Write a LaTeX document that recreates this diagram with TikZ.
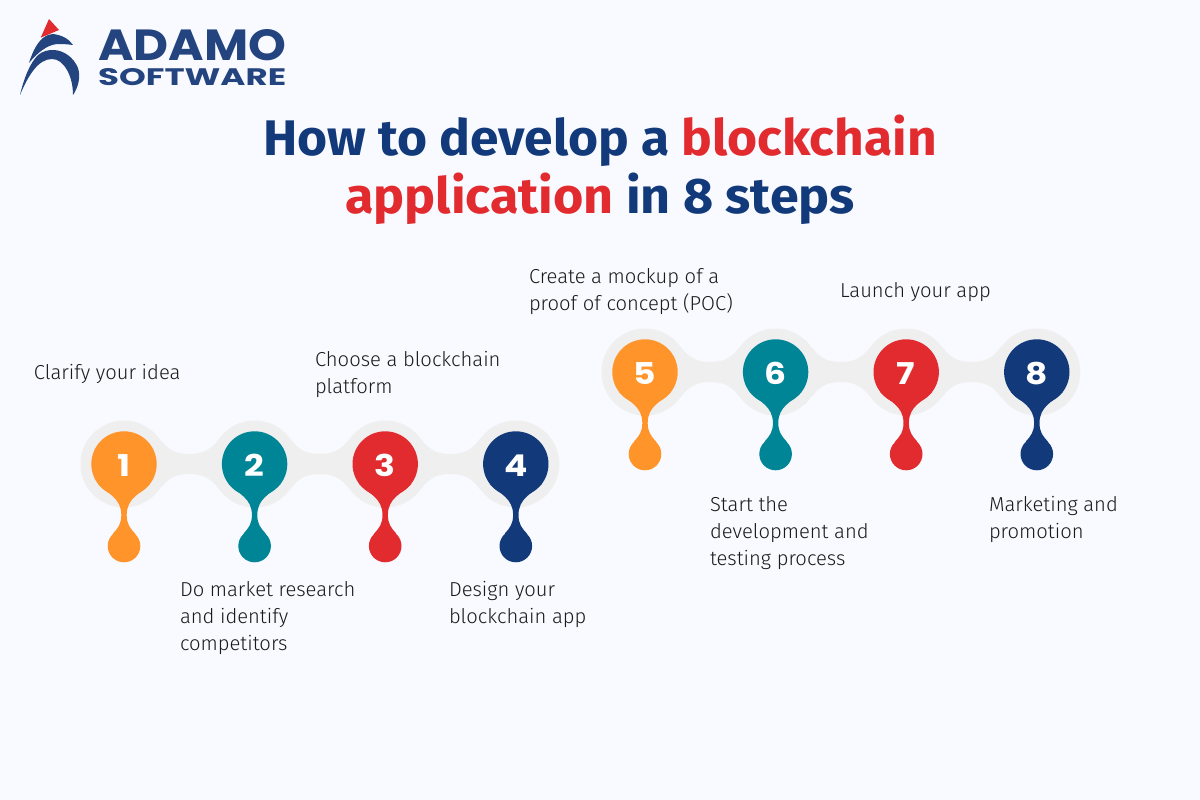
\documentclass[tikz,border=0pt]{standalone}
\usepackage{fontspec}
\setmainfont{Fira Sans}
\newfontfamily\logofont{Poppins}[Scale=1]
\newfontfamily\bodyfont{Fira Sans Light}
\definecolor{bgc}{HTML}{F9FAFF}
\definecolor{bandc}{HTML}{EFEFEF}
\definecolor{orangec}{HTML}{FF942B}
\definecolor{tealc}{HTML}{008596}
\definecolor{redc}{HTML}{E12B2F}
\definecolor{navyc}{HTML}{123A7A}
\definecolor{logoc}{HTML}{24447F}
\definecolor{textc}{HTML}{1A1A1A}
\tikzset{
  band/.style={fill=bandc,draw=none},
  label text/.style={anchor=north west,inner sep=0pt,outer sep=0pt,align=left,text=textc,font=\bodyfont\fontsize{20.2}{27}\selectfont},
  num/.style={anchor=base,inner sep=0pt,text=white,font=\logofont\fontsize{30}{36}\selectfont\bfseries},
}
\newcommand{\bandrow}[2]{%
  \foreach \cx in {0,1,2,3}{\fill[band] ({#1+130.6*\cx},#2) circle (43.5);}
  \foreach \cx in {0,1,2}{%
    \fill[band] ({#1+130.6*\cx+36},{#2-25})
      .. controls ({#1+130.6*\cx+44},{#2-14}) and ({#1+130.6*\cx+52},{#2-10}) .. ({#1+130.6*\cx+65.3},{#2-10})
      .. controls ({#1+130.6*\cx+78},{#2-10}) and ({#1+130.6*\cx+87},{#2-14}) .. ({#1+130.6*\cx+94.6},{#2-25})
      -- ({#1+130.6*\cx+94.6},{#2+25})
      .. controls ({#1+130.6*\cx+87},{#2+14}) and ({#1+130.6*\cx+78},{#2+10}) .. ({#1+130.6*\cx+65.3},{#2+10})
      .. controls ({#1+130.6*\cx+52},{#2+10}) and ({#1+130.6*\cx+44},{#2+14}) .. ({#1+130.6*\cx+36},{#2+25}) -- cycle;}
}
\newcommand{\dropshape}[4]{% x, y, colour, number
  \begin{scope}[shift={(#1,#2)}]
    \fill[#3] (0,0) circle (32.7);
    \fill[#3] (26,20)
      .. controls (16,30) and (2.7,34) .. (2.7,51)
      .. controls (2.7,60) and (6,64) .. (11,69.5)
      -- (0,82) -- (-11,69.5)
      .. controls (-6,64) and (-2.7,60) .. (-2.7,51)
      .. controls (-2.7,34) and (-16,30) .. (-26,20) -- (0,0) -- cycle;
    \fill[#3] (0,82) circle (16.3);
    \node[num] (n#4) at (0,12) {\scalebox{1.15}[1]{#4}};
  \end{scope}
}
\begin{document}
\begin{tikzpicture}[x=1pt,y=-1pt]
\useasboundingbox (0,0) rectangle (1200,800);
\fill[bgc] (0,0) rectangle (1200,800);
% logo
\fill[redc] (49,19) -- (59,30) -- (40.7,37.7) -- cycle;
\fill[logoc] (29,63) .. controls (33,50) and (38,42) .. (43,38) .. controls (47,35) and (50,34) .. (53,34) .. controls (62,35) and (69,39) .. (73,45) .. controls (66,44) and (61,44) .. (57,44) .. controls (47,45) and (37,53) .. (29,63) -- cycle;
\fill[logoc] (20,95) .. controls (24,78) and (30,63) .. (38,55) .. controls (43,51) and (48,50) .. (53,50) .. controls (64,50) and (74,58) .. (78,68) .. controls (81,77) and (78,88) .. (73,95) .. controls (73,86) and (71,77) .. (67,70) .. controls (63,63) and (58,59) .. (52,59) .. controls (38,59) and (28,76) .. (20,95) -- cycle;
\node[anchor=base west,inner sep=0pt,text=logoc] (adamo) at (98,60.5) {\resizebox{188pt}{31pt}{\logofont\bfseries ADAMO}};
\node[anchor=base west,inner sep=0pt,text=logoc] (software) at (98,85) {\resizebox{188pt}{17pt}{\logofont\bfseries SOFTWARE}};
% title
\node[anchor=north,inner sep=0pt,align=center,font=\fontsize{50}{58}\selectfont\bfseries,text=navyc] (title) at (600,114.4)
  {\strut\scalebox{1.03}[1]{How to develop a \textcolor{redc}{blockchain}}\\\scalebox{1.04}[1]{\textcolor{redc}{application} in 8 steps}};
% bands
\bandrow{124}{464}
\bandrow{645}{372}
% drops
\dropshape{124}{464}{orangec}{1}
\dropshape{254.6}{464}{tealc}{2}
\dropshape{385.2}{464}{redc}{3}
\dropshape{515.8}{464}{navyc}{4}
\dropshape{645}{372}{orangec}{5}
\dropshape{775.6}{372}{tealc}{6}
\dropshape{906.2}{372}{redc}{7}
\dropshape{1036.8}{372}{navyc}{8}
% labels
\node[label text] (l1) at (34,360.1) {\strut Clarify your idea};
\node[label text] (l2) at (180,577.1) {\strut Do market research\\and identify\\competitors};
\node[label text] (l3) at (315,347.1) {\strut Choose a blockchain\\platform};
\node[label text] (l4) at (449,577.1) {\strut Design your\\blockchain app};
\node[label text] (l5) at (529,264.1) {\strut Create a mockup of a\\proof of concept (POC)};
\node[label text] (l6) at (710,492.1) {\strut Start the\\development and\\testing process};
\node[label text] (l7) at (840,278.1) {\strut Launch your app};
\node[label text] (l8) at (989,492.1) {\strut Marketing and\\promotion};
\end{tikzpicture}
\end{document}
